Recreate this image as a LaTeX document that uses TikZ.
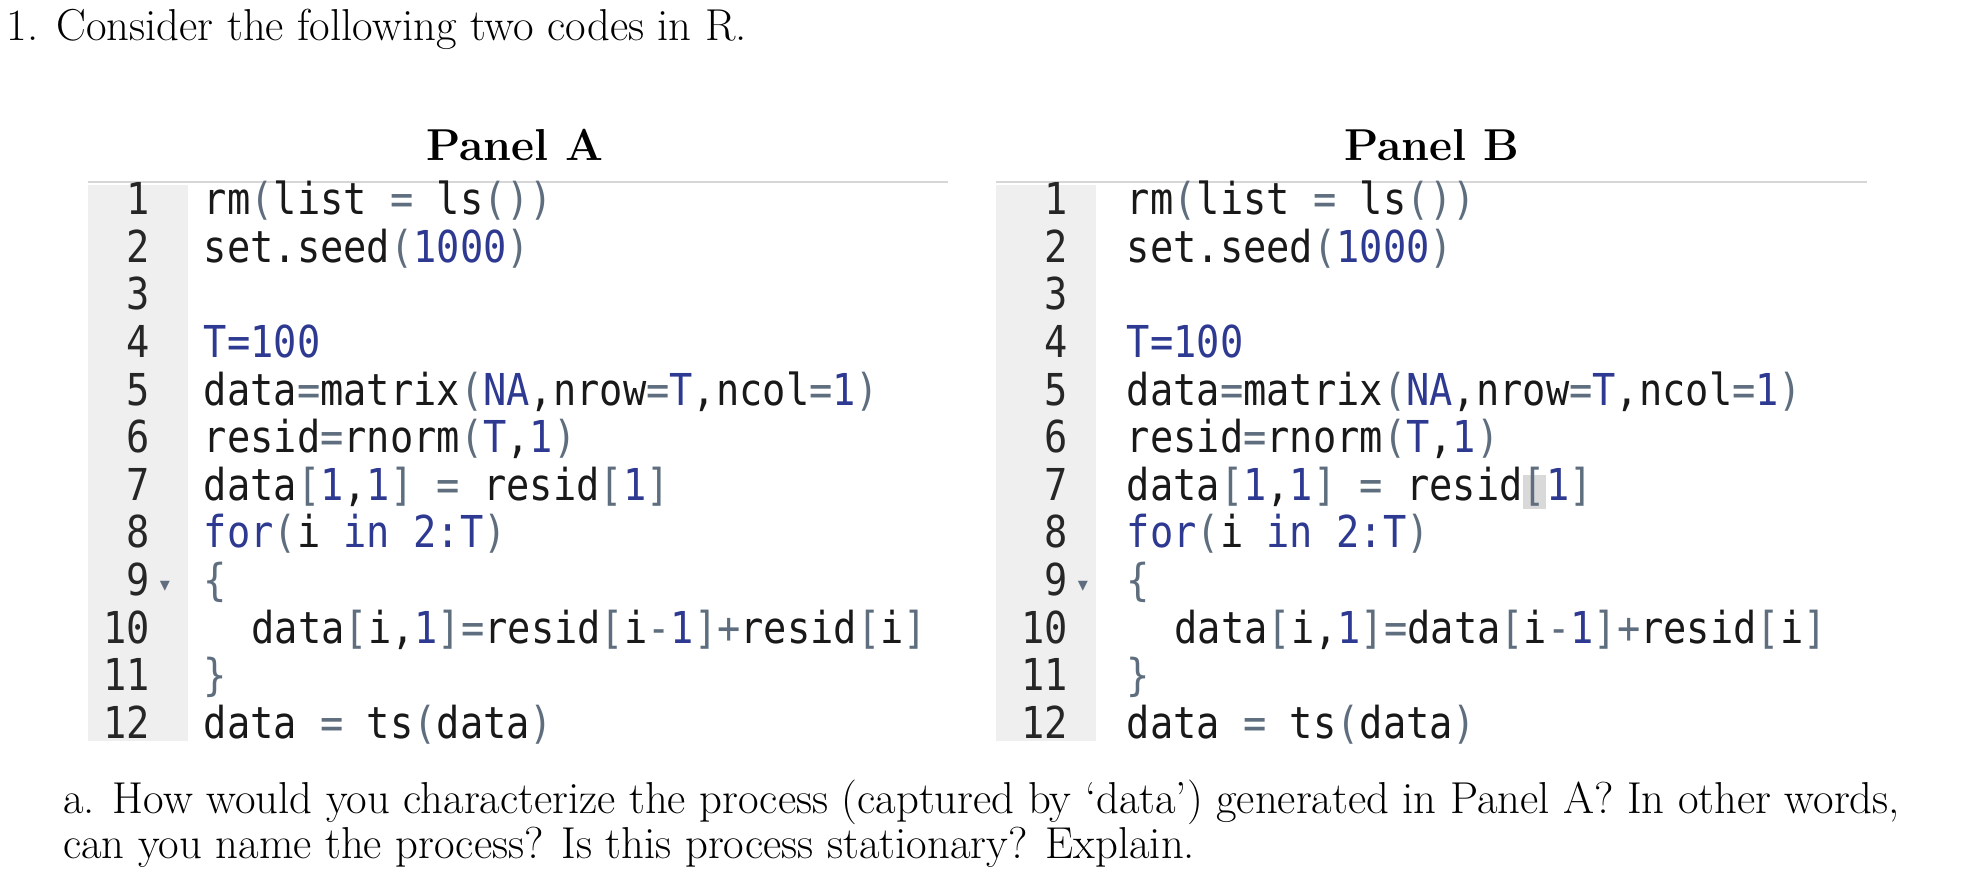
\documentclass[tikz,border=0pt]{standalone}
\usepackage{fontspec}
\setmonofont[FakeStretch=0.88]{DejaVu Sans Mono}
\newfontfamily\symf{DejaVu Sans}
\definecolor{kwc}{HTML}{2E3A92}
\definecolor{pnc}{HTML}{5F6E7E}
\definecolor{gut}{HTML}{EFEFEF}
\definecolor{rulec}{HTML}{D6D6D6}
\newcommand{\kw}[1]{\textcolor{kwc}{#1}}
\newcommand{\pn}[1]{\textcolor{pnc}{#1}}
\begin{document}
\begin{tikzpicture}[x=0.5pt,y=-0.5pt,
  code/.style={anchor=base west,inner sep=0pt,font=\fontsize{17.5}{20}\ttfamily,text=black!90},
  lnum/.style={anchor=base east,inner sep=0pt,font=\fontsize{17.5}{20}\ttfamily,text=black!85},
  body/.style={anchor=base west,inner sep=0pt,font=\fontsize{17.8}{20}\selectfont},
  ttl/.style={anchor=base,inner sep=0pt,font=\fontsize{17.8}{20}\bfseries}]
\useasboundingbox (0,0) rectangle (1568,709);
\node[body] (q1) at (5,32) {1. Consider the following two codes in R.};
% panel A
\fill[gut] (70,147) rectangle (150,590);
\draw[rulec,line width=1pt] (70,145) -- (755,145);
\node[ttl] (ta) at (410,128) {Panel A};
\fill[gut] (793,147) rectangle (873,590);
\draw[rulec,line width=1pt] (793,145) -- (1487,145);
\node[ttl] (tb) at (1140,128) {Panel B};
\foreach \k in {1,...,12}{
  \node[lnum] (na\k) at (120,{171+37.9*(\k-1)}) {\k};
  \node[lnum] (nb\k) at (851,{171+37.9*(\k-1)}) {\k};
}
\node[anchor=base west,inner sep=0pt,text=pnc,font=\fontsize{8}{8}\symf] (ara) at (127,471) {▾};
\node[anchor=base west,inner sep=0pt,text=pnc,font=\fontsize{8}{8}\symf] (arb) at (858,471) {▾};
\foreach \X/\p in {162/a,897/b}{
\node[code] (\p1) at (\X,171) {rm\pn{(}list \pn{=} ls\pn{())}};
\node[code] (\p2) at (\X,208.9) {set.seed\pn{(}\kw{1000}\pn{)}};
\node[code] (\p4) at (\X,284.7) {\kw{T=100}};
\node[code] (\p5) at (\X,322.6) {data\pn{=}matrix\pn{(}\kw{NA},nrow\pn{=}\kw{T},ncol\pn{=}\kw{1}\pn{)}};
\node[code] (\p6) at (\X,360.5) {resid\pn{=}rnorm\pn{(}\kw{T},\kw{1}\pn{)}};
\node[code] (\p8) at (\X,436.3) {\kw{for}\pn{(}i \kw{in} \kw{2:T}\pn{)}};
\node[code] (\p9) at (\X,474.2) {\pn{\{}};
\node[code] (\p11) at (\X,550) {\pn{\}}};
\node[code] (\p12) at (\X,587.9) {data \pn{=} ts\pn{(}data\pn{)}};
}
\node[code] (a7) at (162,398.4) {data\pn{[}\kw{1},\kw{1}\pn{]} \pn{=} resid\pn{[}\kw{1}\pn{]}};
\fill[black!15] (1213,378) rectangle (1231,405);
\node[code] (b7) at (897,398.4) {data\pn{[}\kw{1},\kw{1}\pn{]} \pn{=} resid\pn{[}\kw{1}\pn{]}};
\node[code] (a10) at (200,512.1) {data\pn{[}i,\kw{1}\pn{]=}resid\pn{[}i\pn{-}\kw{1}\pn{]+}resid\pn{[}i\pn{]}};
\node[code] (b10) at (935,512.1) {data\pn{[}i,\kw{1}\pn{]=}data\pn{[}i\pn{-}\kw{1}\pn{]+}resid\pn{[}i\pn{]}};
\node[body] (qa1) at (50,648) {a. How would you characterize the process (captured by `data') generated in Panel A? In other words,};
\node[body] (qa2) at (50,684) {can you name the process? Is this process stationary? Explain.};
\end{tikzpicture}
\end{document}
